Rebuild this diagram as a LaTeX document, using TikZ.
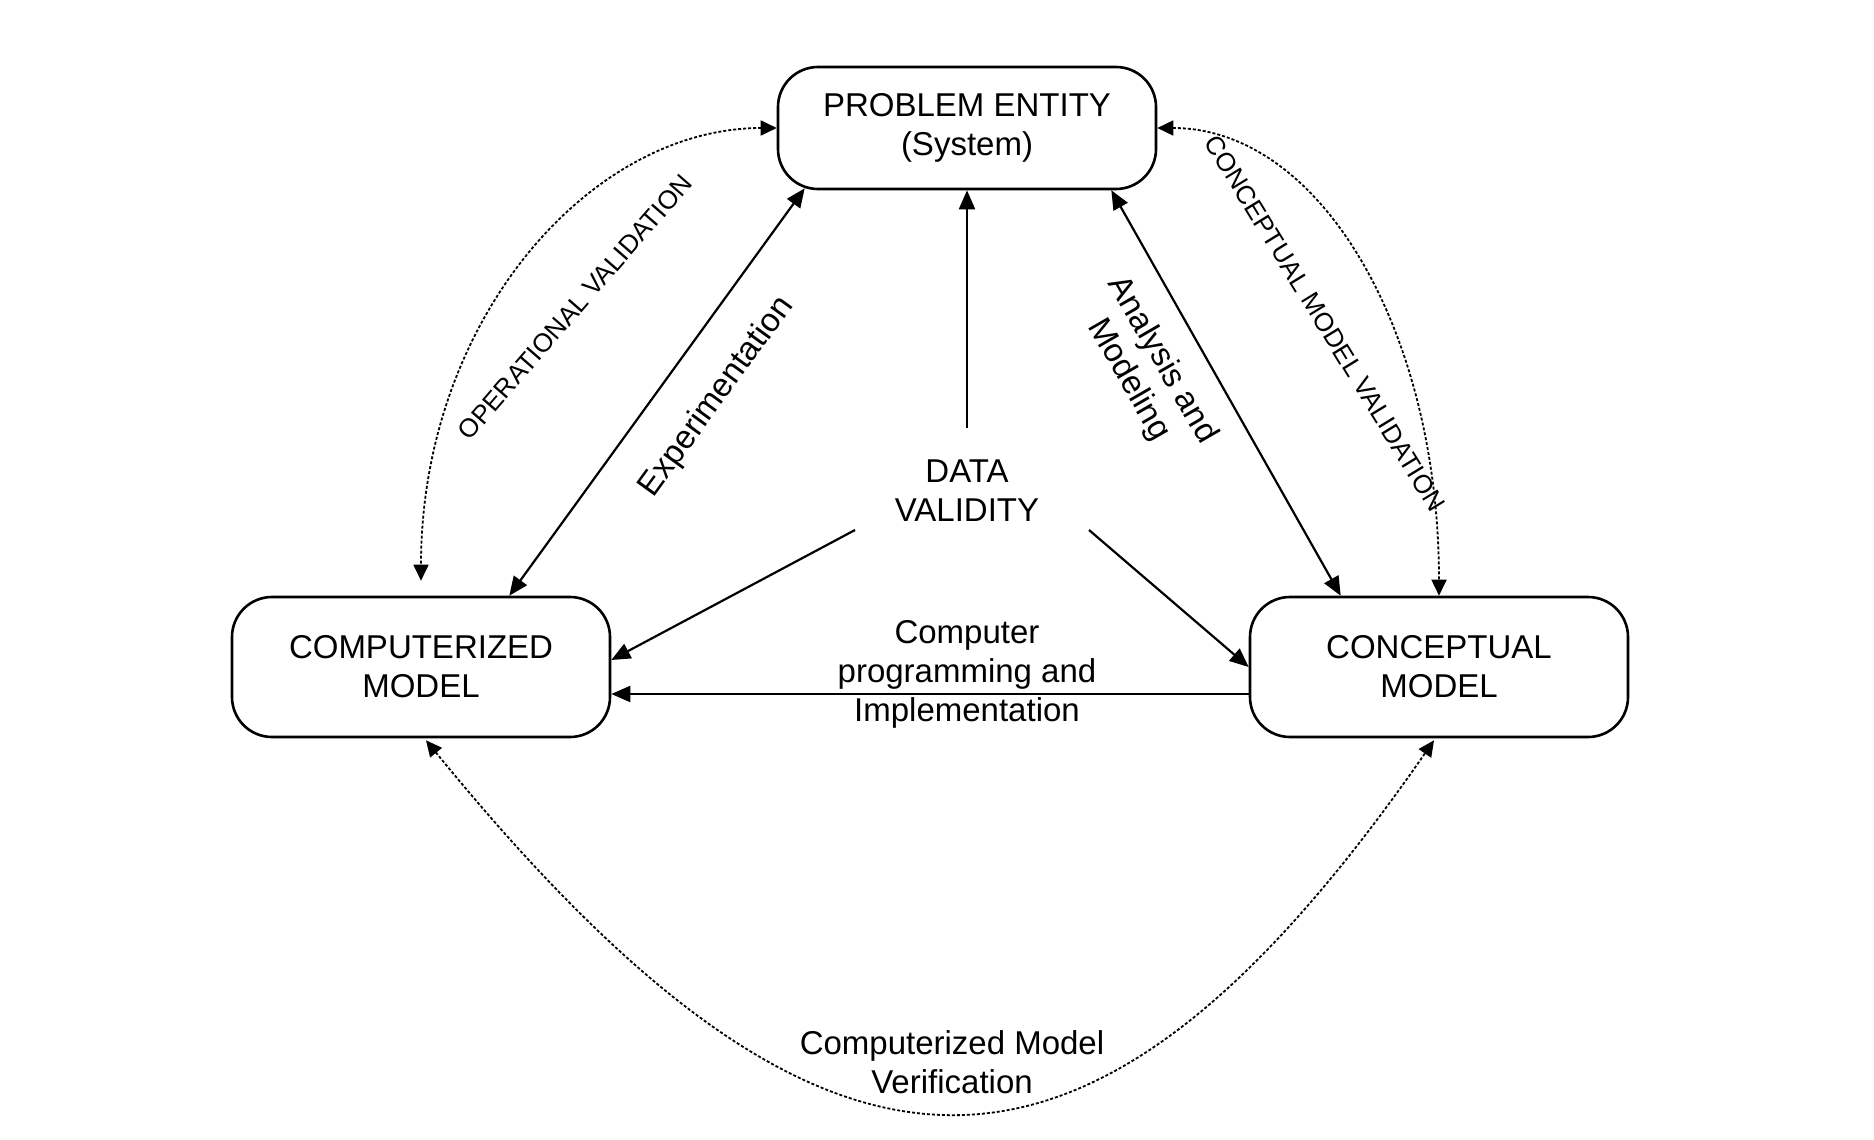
\documentclass[tikz,border=0pt]{standalone}
\usepackage{fontspec}
\setmainfont{Liberation Sans}
\usetikzlibrary{arrows.meta,calc}
\newcommand{\dfbig}{\fontsize{33}{39}\selectfont}
\newcommand{\dfsmall}{\fontsize{26}{31}\selectfont}
\begin{document}
\begin{tikzpicture}[x=1pt,y=-1pt,
  box/.style={draw,line width=2.6pt,rounded corners=40pt,align=center,font=\dfbig,inner sep=0pt},
  lbl/.style={align=center,font=\dfbig,inner sep=0pt},
  slbl/.style={align=center,font=\dfsmall,inner sep=0pt},
  solidarrow/.style={line width=2.2pt,-{Triangle[length=19pt,width=16pt]}},
  dblarrow/.style={line width=2.2pt,{Triangle[length=19pt,width=16pt]}-{Triangle[length=19pt,width=16pt]}},
  dotarrow/.style={line width=1.8pt,dash pattern=on 3pt off 2pt,{Triangle[length=16pt,width=15pt]}-{Triangle[length=16pt,width=15pt]}},
]
\fill[white] (0,0) rectangle (1874,1140);
\useasboundingbox (0,0) rectangle (1874,1140);

% boxes
\node[box,minimum width=378pt,minimum height=122pt] (pe) at (967,128) {PROBLEM ENTITY\\(System)};
\node[box,minimum width=378pt,minimum height=140pt] (cm) at (421,667) {COMPUTERIZED\\MODEL};
\node[box,minimum width=378pt,minimum height=140pt] (cpm) at (1439,667) {CONCEPTUAL\\MODEL};

% data validity
\node[lbl] (dv) at (967,491) {DATA\\VALIDITY};
\coordinate (dvT) at (967,428);
\coordinate (dvL) at (855,530);
\coordinate (dvR) at (1089,530);

% solid connectors
\draw[solidarrow] (dvT) -- (pe.south);
\draw[solidarrow] (dvL) -- ($(cm.east)+(0,-7)$);
\draw[solidarrow] (dvR) -- (cpm.west);
\draw[solidarrow] ($(cpm.west)+(0,27)$) -- ($(cm.east)+(0,27)$);
\draw[dblarrow] ($(pe.south west)+(28,-2)$) -- ($(cm.north east)+(-102,0)$);
\draw[dblarrow] ($(pe.south east)+(-46,0)$) -- ($(cpm.north west)+(92,0)$);

% dotted validation curves
\draw[dotarrow] (pe.west) .. controls (590,128) and (421,320) .. ($(cm.north)+(0,-15)$);
\draw[dotarrow] (pe.east) .. controls (1320,128) and (1439,330) .. (cpm.north);
\draw[dotarrow] ($(cm.south)+(5,2)$) .. controls (830,1236) and (1090,1236) .. ($(cpm.south)+(-5,2)$);

% labels
\node[lbl,rotate=54] (lexp) at (717,397) {Experimentation};
\node[lbl,rotate=-60] (lana) at (1145,370) {Analysis and\\Modeling};
\node[lbl] (lprog) at (967,674) {Computer\\programming and\\Implementation};
\node[lbl] (lver) at (952,1062) {Computerized Model\\Verification};
\node[slbl,rotate=49] (lov) at (575,307) {OPERATIONAL VALIDATION};
\node[slbl,rotate=-58.5] (lcmv) at (1325,323) {CONCEPTUAL MODEL VALIDATION};
\end{tikzpicture}
\end{document}
